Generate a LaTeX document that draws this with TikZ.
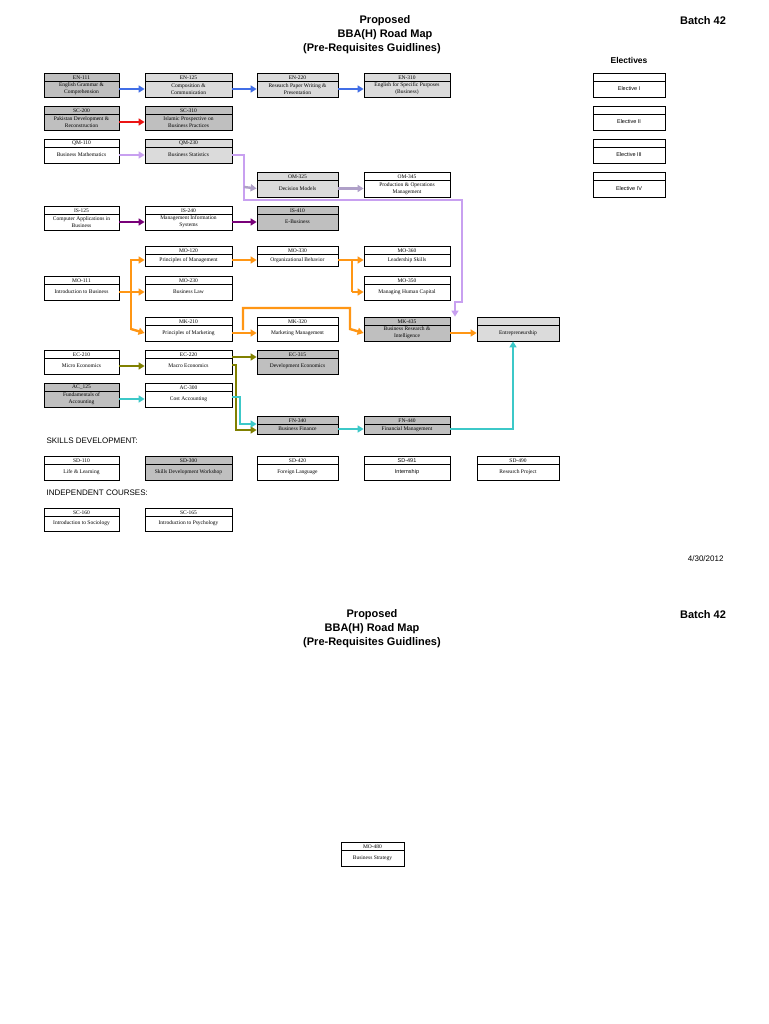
\documentclass[tikz,border=0pt]{standalone}
\usepackage{fontspec}
\setmainfont{Liberation Serif}
\setsansfont{Liberation Sans}
\usetikzlibrary{arrows.meta}
\definecolor{dkg}{gray}{0.75}
\definecolor{ltg}{gray}{0.86}
\definecolor{cblue}{RGB}{65,110,230}
\definecolor{cred}{RGB}{235,20,20}
\definecolor{clav}{RGB}{200,160,240}
\definecolor{cgl}{RGB}{175,160,200}
\definecolor{cpur}{RGB}{120,0,120}
\definecolor{corg}{RGB}{255,150,20}
\definecolor{coli}{RGB}{128,128,0}
\definecolor{ccy}{RGB}{60,200,200}
\tikzset{
 conn/.style={line width=2.4pt,-{Triangle[length=6pt,width=7pt]}},
 seg/.style={line width=2.4pt},
 ttl/.style={font=\sffamily\bfseries\fontsize{11}{12}\selectfont},
 sec/.style={font=\sffamily\fontsize{8}{9}\selectfont,anchor=west},
}
\newcommand{\cfont}{\rmfamily}
% \course{name}{x1}{x2}{ytop}{ymid}{ybot}{code}{title}{fill}
\newcommand{\course}[9]{%
 \fill[#9] (#2,#4) rectangle (#3,#6);
 \node[draw=black,line width=0.8pt,inner sep=0,minimum width={#3-#2},minimum height={#6-#4}] (#1) at ({(#2+#3)/2},{(#4+#6)/2}) {};
 \draw[line width=0.8pt] (#2,#5) -- (#3,#5);
 \node[font=\cfont\fontsize{5.5}{6}\selectfont,inner sep=0] at ({(#2+#3)/2},{(#4+#5)/2+0.3}) {#7};
 \node[font=\cfont\fontsize{5.5}{7}\selectfont,align=center,inner sep=0] at ({(#2+#3)/2},{(#5+#6)/2}) {#8};
 \coordinate (#1-b) at ({(#2+#3)/2},{(#5+#6)/2});
}
\begin{document}
\begin{tikzpicture}[x=1pt,y=-1pt]
\useasboundingbox (0,0) rectangle (768,1024);
\fill[white] (0,0) rectangle (768,1024);
% titles
\node[ttl] (t1) at (385,21) {Proposed};
\node[ttl] (t2) at (385,35) {BBA(H) Road Map};
\node[ttl] (t3) at (372,49) {(Pre-Requisites Guidlines)};
\node[ttl] (b1) at (703,21) {Batch 42};
\node[ttl,font=\sffamily\bfseries\fontsize{8.5}{9}\selectfont] (el) at (629,60) {Electives};
\node[ttl] (t4) at (372,615) {Proposed};
\node[ttl] (t5) at (372,629) {BBA(H) Road Map};
\node[ttl] (t6) at (372,643) {(Pre-Requisites Guidlines)};
\node[ttl] (b2) at (703,615) {Batch 42};
\node[font=\sffamily\fontsize{8}{9}\selectfont,anchor=east] (dt) at (727,559) {4/30/2012};
\node[sec] (s1) at (43,441) {SKILLS DEVELOPMENT:};
\node[sec] (s2) at (43,493) {INDEPENDENT COURSES:};
% row EN
\course{en111}{44}{119}{73}{81}{97}{EN-111}{English Grammar \&\\Comprehension}{dkg}
\course{en125}{145}{232}{73}{81}{97}{EN-125}{Composition \&\\Communication}{ltg}
\course{en220}{257}{338}{73}{81}{97}{EN-220}{Research Paper Writing \&\\Presentation}{ltg}
\course{en310}{364}{450}{73}{81}{97}{EN-310}{English for Specific Purposes\\(Business)}{ltg}
\course{sc200}{44}{119}{106}{114}{130}{SC-200}{Pakistan Development \&\\Reconstruction}{dkg}
\course{sc310}{145}{232}{106}{114}{130}{SC-310}{Islamic Prospective on\\Business Practices}{dkg}
\course{qm110}{44}{119}{139}{147}{163}{QM-110}{Business Mathematics}{white}
\course{qm230}{145}{232}{139}{147}{163}{QM-230}{Business Statistics}{ltg}
\course{om325}{257}{338}{172}{180}{197}{OM-325}{Decision Models}{ltg}
\course{om345}{364}{450}{172}{180}{197}{OM-345}{Production \& Operations\\Management}{white}
\course{is125}{44}{119}{206}{214}{230}{IS-125}{Computer Applications in\\Business}{white}
\course{is240}{145}{232}{206}{214}{230}{IS-240}{Management Information\\Systems}{white}
\course{is410}{257}{338}{206}{214}{230}{IS-410}{E-Business}{dkg}
\course{mo120}{145}{232}{246}{254}{266}{MO-120}{Principles of Management}{white}
\course{mo330}{257}{338}{246}{254}{266}{MO-330}{Organizational Behavior}{white}
\course{mo360}{364}{450}{246}{254}{266}{MO-360}{Leadership Skills}{white}
\course{mo111}{44}{119}{276}{284}{300}{MO-111}{Introduction to Business}{white}
\course{mo230}{145}{232}{276}{284}{300}{MO-230}{Business Law}{white}
\course{mo350}{364}{450}{276}{284}{300}{MO-350}{Managing Human Capital}{white}
\course{mk210}{145}{232}{317}{325}{341}{MK-210}{Principles of Marketing}{white}
\course{mk320}{257}{338}{317}{325}{341}{MK-320}{Marketing Management}{white}
\course{mk435}{364}{450}{317}{325}{341}{MK-435}{Business Research \&\\Intelligence}{dkg}
\course{ent}{477}{559}{317}{325}{341}{}{Entrepreneurship}{ltg}
\course{ec210}{44}{119}{350}{358}{374}{EC-210}{Micro Economics}{white}
\course{ec220}{145}{232}{350}{358}{374}{EC-220}{Macro Economics}{white}
\course{ec315}{257}{338}{350}{358}{374}{EC-315}{Development Economics}{dkg}
\course{ac125}{44}{119}{383}{391}{407}{AC\_125}{Fundamentals of\\Accounting}{dkg}
\course{ac300}{145}{232}{383}{391}{407}{AC-300}{Cost Accounting}{white}
\course{fn340}{257}{338}{416}{424}{434}{FN-340}{Business Finance}{dkg}
\course{fn440}{364}{450}{416}{424}{434}{FN-440}{Financial Management}{dkg}
% skills
\course{sd110}{44}{119}{456}{464}{480}{SD-110}{Life \& Learning}{white}
\course{sd300}{145}{232}{456}{464}{480}{SD-300}{Skills Development Workshop}{dkg}
\course{sd420}{257}{338}{456}{464}{480}{SD-420}{Foreign Language}{white}
\course{sd490}{477}{559}{456}{464}{480}{SD-490}{Research Project}{white}
\course{sc160}{44}{119}{508}{516}{531}{SC-160}{Introduction to Sociology}{white}
\course{sc165}{145}{232}{508}{516}{531}{SC-165}{Introduction to Psychology}{white}
\course{mo480}{341}{404}{842}{850}{866}{MO-480}{Business Strategy}{white}
% sans boxes
\renewcommand{\cfont}{\sffamily}
\course{sd491}{364}{450}{456}{464}{480}{SD-491}{Internship}{white}
\course{e1}{593}{665}{73}{81}{97}{}{Elective I}{white}
\course{e2}{593}{665}{106}{114}{130}{}{Elective II}{white}
\course{e3}{593}{665}{139}{147}{163}{}{Elective III}{white}
\course{e4}{593}{665}{172}{180}{197}{}{Elective IV}{white}
% connectors
\draw[conn,cblue] (en111.east|-en111-b) -- (en125.west|-en111-b);
\draw[conn,cblue] (en125.east|-en125-b) -- (en220.west|-en125-b);
\draw[conn,cblue] (en220.east|-en220-b) -- (en310.west|-en220-b);
\draw[conn,cred] (sc200.east|-sc200-b) -- (sc310.west|-sc200-b);
\draw[conn,clav] (qm110.east|-qm110-b) -- (qm230.west|-qm110-b);
\coordinate (qa) at (244,155);
\coordinate (qb) at (462,200);
\coordinate (qc) at (455,302);
\draw[seg,clav] (qm230.east|-qa) -- (qa) -- (244,200) -- (qb) -- (462,302) -- (qc);
\draw[conn,clav] (455,300.8) -- (mk435.north-|qc);
\draw[conn,cgl] (244,187) -- (om325.west|-om325-b);
\draw[conn,cgl] (om325.east|-om325-b) -- (om345.west|-om325-b);
\draw[conn,cpur] (is125.east|-is125-b) -- (is240.west|-is125-b);
\draw[conn,cpur] (is240.east|-is240-b) -- (is410.west|-is240-b);
% orange
\draw[seg,corg] (mo111.east|-mo111-b) -- (131,292);
\draw[seg,corg] (131,259) -- (131,330);
\draw[conn,corg] (131,260) -- (mo120.west|-mo120-b);
\draw[conn,corg] (131,292) -- (mo230.west|-mo230-b);
\draw[conn,corg] (131,329) -- (mk210.west|-mk210-b);
\draw[conn,corg] (mo120.east|-mo120-b) -- (mo330.west|-mo120-b);
\draw[conn,corg] (mo330.east|-mo330-b) -- (mo360.west|-mo330-b);
\draw[seg,corg] (352,259) -- (352,292);
\draw[conn,corg] (352,292) -- (mo350.west|-mo350-b);
\draw[conn,corg] (mk210.east|-mk210-b) -- (mk320.west|-mk210-b);
\draw[conn,corg] (243,330) -- (243,308) -- (350,308) -- (350,329) -- (mk435.west|-mk435-b);
\draw[conn,corg] (mk435.east|-mk435-b) -- (ent.west|-mk435-b);
% olive
\coordinate (oa) at (236,357);
\draw[conn,coli] (ec210.east|-ec210-b) -- (ec220.west|-ec210-b);
\draw[conn,coli] (ec220.east|-oa) -- (ec315.west|-oa);
\draw[conn,coli] (232,365) -- (236,365) -- (236,430) -- (fn340.west|-0,430);
% cyan
\draw[conn,ccy] (ac125.east|-ac125-b) -- (ac300.west|-ac125-b);
\draw[conn,ccy] (232,397) -- (240,397) -- (240,424) -- (fn340.west|-0,424);
\draw[conn,ccy] (fn340.east|-fn340-b) -- (fn440.west|-fn340-b);
\draw[conn,ccy] (fn440.east|-fn440-b) -- (513,429) -- (ent.south-|513,0);
\end{tikzpicture}
\end{document}
